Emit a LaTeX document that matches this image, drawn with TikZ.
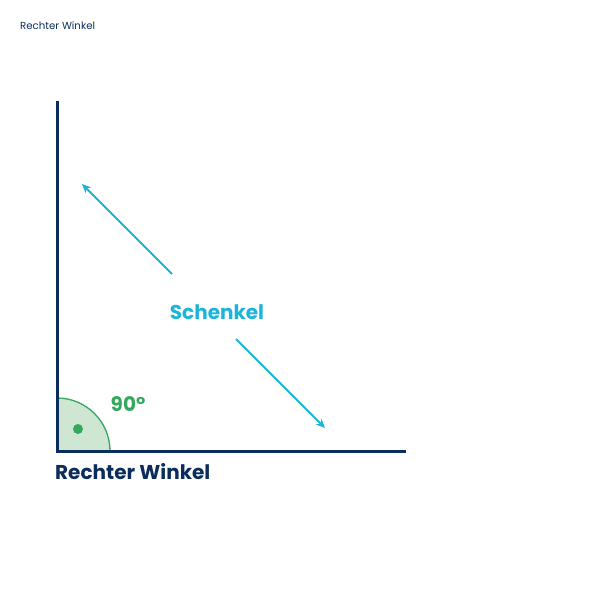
\documentclass[tikz,border=0pt]{standalone}
\usepackage{fontspec}
\setmainfont{Poppins}
\usetikzlibrary{arrows.meta}
\definecolor{navy}{HTML}{0B2D5B}
\definecolor{anglegreen}{HTML}{34A85E}
\definecolor{anglefill}{HTML}{CFE6D2}
\definecolor{legcyan}{HTML}{1BB4DA}
\begin{document}
\begin{tikzpicture}[x=1pt, y=-1pt]
\useasboundingbox (0,0) rectangle (600,600);
\node[anchor=west, navy, inner sep=0pt, font=\fontsize{10.2}{12}\selectfont] (title) at (20,26){Rechter Winkel};
\coordinate (O) at (57,451);
\coordinate (A) at (57,101);
\coordinate (B) at (406,451);
\fill[anglefill] (O) -- ++(53,0) arc[start angle=0, end angle=-90, radius=53] -- cycle;
\draw[anglegreen, line width=1.3pt] (O) ++(53,0) arc[start angle=0, end angle=-90, radius=53];
\node[circle, fill, anglegreen, inner sep=0pt, minimum size=10pt] (dot) at (78,429){};
\draw[navy, line width=3pt] (A) -- (O) -- (B);
\node[anglegreen, font=\bfseries\fontsize{20}{24}\selectfont] (deg) at (128,404){90°};
\node[legcyan, font=\bfseries\fontsize{20}{24}\selectfont] (schenkel) at (217,312){Schenkel};
\node[anchor=west, navy, inner sep=0pt, font=\bfseries\fontsize{20}{24}\selectfont] (label) at (55,472){Rechter Winkel};
\coordinate (p1) at (172,274);
\coordinate (q1) at (82,184);
\coordinate (p2) at (236,339);
\coordinate (q2) at (325,428);
\draw[legcyan, line width=1.8pt, -{Stealth[length=9pt, width=8pt]}] (p1) -- (q1);
\draw[legcyan, line width=1.8pt, -{Stealth[length=9pt, width=8pt]}] (p2) -- (q2);
\end{tikzpicture}
\end{document}
